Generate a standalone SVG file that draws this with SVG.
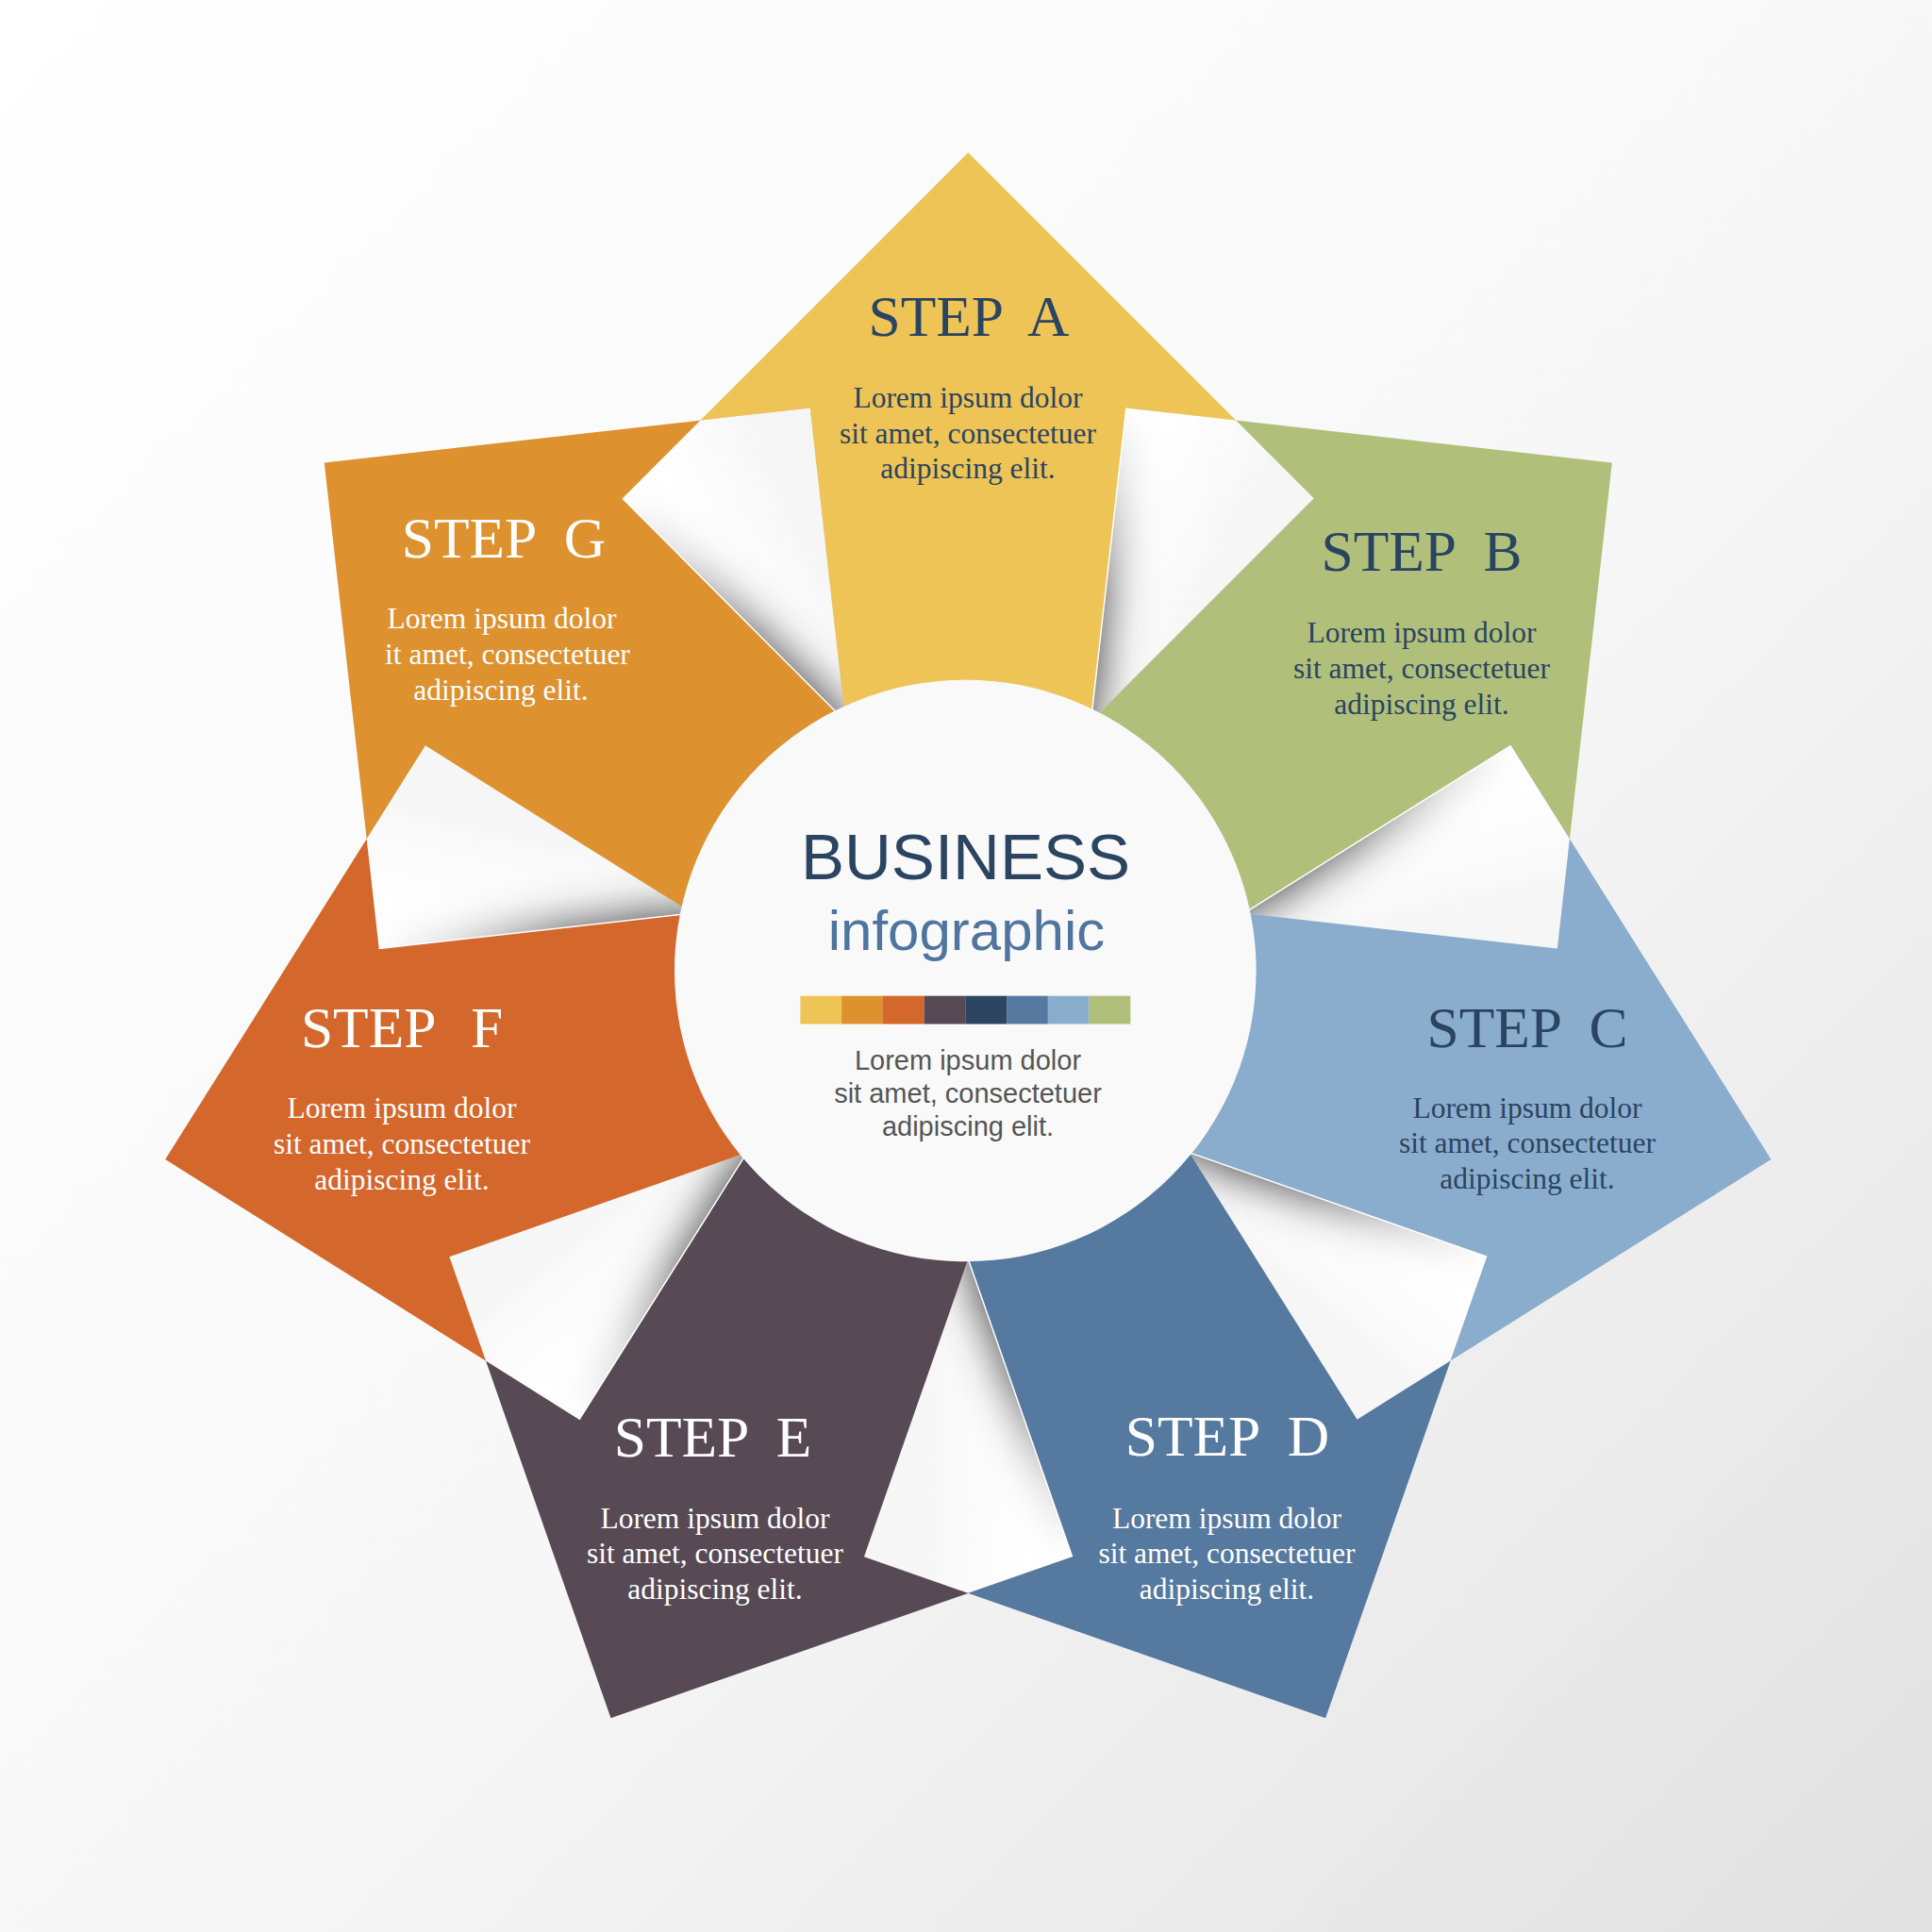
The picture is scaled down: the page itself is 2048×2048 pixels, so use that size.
<svg xmlns="http://www.w3.org/2000/svg" xmlns:xlink="http://www.w3.org/1999/xlink" width="2048" height="2048" viewBox="0 0 2048 2048">
<defs>
  <linearGradient id="bg" x1="0" y1="0" x2="1" y2="1">
    <stop offset="0" stop-color="#ffffff"/>
    <stop offset="0.55" stop-color="#f7f7f7"/>
    <stop offset="1" stop-color="#e2e1e1"/>
  </linearGradient>
  <path id="petal" d="M0,-873 L366.4,-506.6 L87.7,-227.9 L-87.7,-227.9 L-366.4,-506.6 Z"/>
  <linearGradient id="foldBase" gradientUnits="userSpaceOnUse" x1="-60" y1="-470" x2="60" y2="-470">
    <stop offset="0" stop-color="#ffffff"/>
    <stop offset="1" stop-color="#f6f6f6"/>
  </linearGradient>
  <linearGradient id="foldShade" gradientUnits="userSpaceOnUse" x1="0" y1="-300" x2="60.4" y2="-321.1">
    <stop offset="0" stop-color="#808080" stop-opacity="0.85"/>
    <stop offset="0.22" stop-color="#9a9a9a" stop-opacity="0.6"/>
    <stop offset="0.55" stop-color="#c4c4c4" stop-opacity="0.22"/>
    <stop offset="1" stop-color="#ffffff" stop-opacity="0"/>
  </linearGradient>
  <linearGradient id="foldFade" gradientUnits="userSpaceOnUse" x1="-110.36" y1="-615.38" x2="0" y2="-300">
    <stop offset="0" stop-color="#000"/>
    <stop offset="0.25" stop-color="#444"/>
    <stop offset="0.6" stop-color="#ddd"/>
    <stop offset="0.85" stop-color="#fff"/>
    <stop offset="1" stop-color="#e6e6e6"/>
  </linearGradient>
  <mask id="foldMask" maskUnits="userSpaceOnUse" x="-200" y="-700" width="400" height="450">
    <rect x="-200" y="-700" width="400" height="450" fill="url(#foldFade)"/>
  </mask>
  <g id="fold">
    <path d="M0,-654 L110.36,-615.38 L0,-300 L-110.36,-615.38 Z" fill="url(#foldBase)"/>
    <path d="M0,-654 L110.36,-615.38 L0,-300 L-110.36,-615.38 Z" fill="url(#foldShade)" mask="url(#foldMask)"/>
    <line x1="-110.36" y1="-615.38" x2="0" y2="-300" stroke="#ffffff" stroke-width="1.5"/>
  </g>
  <style>
    .pa{fill:#eec456}.pb{fill:#b0c07b}.pc{fill:#8badcd}.pd{fill:#55799f}.pe{fill:#574a55}.pf{fill:#d4672c}.pg{fill:#de912f}
    .title{font-family:"Liberation Serif","Times New Roman",serif;font-size:61.5px;text-anchor:middle}
    .body{font-family:"Liberation Serif","Times New Roman",serif;font-size:31.5px;text-anchor:middle}
    .dark{fill:#2a4461}.light{fill:#ffffff}
    .sans{font-family:"Liberation Sans",Arial,sans-serif;text-anchor:middle}
  </style>
</defs>
<rect x="0" y="0" width="2048" height="2048" fill="url(#bg)"/>

<g id="step-a">
  <use xlink:href="#petal" href="#petal" class="pa" transform="translate(1026.3 1034.8)"/>
  <text class="title dark" x="1027" y="356" xml:space="preserve">STEP  A</text>
  <text class="body dark" x="1026" y="432">Lorem ipsum dolor</text>
  <text class="body dark" x="1026" y="469.5">sit amet, consectetuer</text>
  <text class="body dark" x="1026" y="507">adipiscing elit.</text>
</g>
<g id="step-b">
  <use xlink:href="#petal" href="#petal" class="pb" transform="translate(1026.3 1034.8) rotate(51.4286)"/>
  <text class="title dark" x="1507" y="605" xml:space="preserve">STEP  B</text>
  <text class="body dark" x="1507" y="681">Lorem ipsum dolor</text>
  <text class="body dark" x="1507" y="718.5">sit amet, consectetuer</text>
  <text class="body dark" x="1507" y="756.5">adipiscing elit.</text>
</g>
<g id="step-c">
  <use xlink:href="#petal" href="#petal" class="pc" transform="translate(1026.3 1034.8) rotate(102.857)"/>
  <text class="title dark" x="1619" y="1110" xml:space="preserve">STEP  C</text>
  <text class="body dark" x="1619" y="1185">Lorem ipsum dolor</text>
  <text class="body dark" x="1619" y="1222">sit amet, consectetuer</text>
  <text class="body dark" x="1619" y="1259.5">adipiscing elit.</text>
</g>
<g id="step-d">
  <use xlink:href="#petal" href="#petal" class="pd" transform="translate(1026.3 1034.8) rotate(154.286)"/>
  <text class="title light" x="1301" y="1543" xml:space="preserve">STEP  D</text>
  <text class="body light" x="1300.5" y="1619.5">Lorem ipsum dolor</text>
  <text class="body light" x="1300.5" y="1657">sit amet, consectetuer</text>
  <text class="body light" x="1300.5" y="1695">adipiscing elit.</text>
</g>
<g id="step-e">
  <use xlink:href="#petal" href="#petal" class="pe" transform="translate(1026.3 1034.8) rotate(205.714)"/>
  <text class="title light" x="755.5" y="1544" xml:space="preserve">STEP  E</text>
  <text class="body light" x="758" y="1619.5">Lorem ipsum dolor</text>
  <text class="body light" x="758" y="1657">sit amet, consectetuer</text>
  <text class="body light" x="758" y="1695">adipiscing elit.</text>
</g>
<g id="step-f">
  <use xlink:href="#petal" href="#petal" class="pf" transform="translate(1026.3 1034.8) rotate(257.143)"/>
  <text class="title light" x="426" y="1110" xml:space="preserve">STEP  <tspan dx="8">F</tspan></text>
  <text class="body light" x="426" y="1185">Lorem ipsum dolor</text>
  <text class="body light" x="426" y="1222.5">sit amet, consectetuer</text>
  <text class="body light" x="426" y="1260.5">adipiscing elit.</text>
</g>
<g id="step-g">
  <use xlink:href="#petal" href="#petal" class="pg" transform="translate(1026.3 1034.8) rotate(308.571)"/>
  <text class="title light" x="534" y="591" xml:space="preserve">STEP  G</text>
  <text class="body light" x="532" y="666">Lorem ipsum dolor</text>
  <text class="body light" x="538" y="704">it amet, consectetuer</text>
  <text class="body light" x="531" y="741.5">adipiscing elit.</text>
</g>

<g id="folds" transform="translate(1026.3 1034.8)">
  <use xlink:href="#fold" href="#fold" transform="rotate(25.714)"/>
  <use xlink:href="#fold" href="#fold" transform="rotate(77.143)"/>
  <use xlink:href="#fold" href="#fold" transform="rotate(128.571)"/>
  <use xlink:href="#fold" href="#fold" transform="rotate(180)"/>
  <use xlink:href="#fold" href="#fold" transform="rotate(231.429)"/>
  <use xlink:href="#fold" href="#fold" transform="rotate(282.857)"/>
  <use xlink:href="#fold" href="#fold" transform="rotate(334.286)"/>
</g>

<g id="center">
  <circle cx="1023.3" cy="1029" r="308.3" fill="#f9f9f9"/>
  <text class="sans" x="1023.5" y="932" font-size="69" fill="#2a4461">BUSINESS</text>
  <text class="sans" x="1024.5" y="1007" font-size="60" fill="#4f74a0">infographic</text>
  <g id="color-bar">
    <rect x="848.4" y="1055.7" width="43.8" height="29.8" fill="#eec456"/>
    <rect x="892.1" y="1055.7" width="43.8" height="29.8" fill="#de912f"/>
    <rect x="935.8" y="1055.7" width="43.8" height="29.8" fill="#d4672c"/>
    <rect x="979.6" y="1055.7" width="43.8" height="29.8" fill="#574a55"/>
    <rect x="1023.3" y="1055.7" width="43.8" height="29.8" fill="#2c4661"/>
    <rect x="1067.1" y="1055.7" width="43.8" height="29.8" fill="#55799f"/>
    <rect x="1110.8" y="1055.7" width="43.8" height="29.8" fill="#8badcd"/>
    <rect x="1154.5" y="1055.7" width="43.8" height="29.8" fill="#b0c07b"/>
  </g>
  <text class="sans" x="1026" y="1134.4" font-size="29" fill="#555555">Lorem ipsum dolor</text>
  <text class="sans" x="1026" y="1169.3" font-size="29" fill="#555555">sit amet, consectetuer</text>
  <text class="sans" x="1026" y="1203.7" font-size="29" fill="#555555">adipiscing elit.</text>
</g>
</svg>
